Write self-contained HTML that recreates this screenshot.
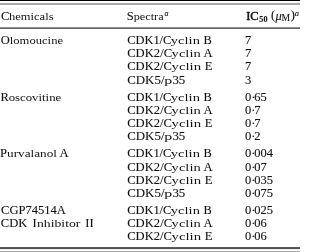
<!DOCTYPE html><html><head><meta charset="utf-8"><style>
html,body{margin:0;padding:0;background:#fff;}
body{width:300px;height:252px;position:relative;overflow:hidden;filter:grayscale(1);}
.t{position:absolute;white-space:nowrap;font-family:"Liberation Serif",serif;font-size:12.5px;line-height:13px;color:#111;transform-origin:0 0;-webkit-text-stroke:0.1px #111;}
.lc{font-size:11px;-webkit-text-stroke:0.0px #111;}
.d{margin-right:-1.3px;}
.lcw{display:inline-block;}
.lci{display:inline-block;transform-origin:0 0;}
.l{position:absolute;left:0;width:300px;}
</style></head><body><div class="l" style="top:0;height:1px;background:#000"></div>
<div class="l" style="top:3px;height:2px;background:#a8a8a8"></div>
<div class="l" style="top:27px;height:1px;background:#8e8e8e"></div>
<div class="l" style="top:28px;height:1px;background:#666"></div>
<div class="l" style="top:247px;height:1px;background:#5a5a5a"></div>
<div class="l" style="top:248px;height:1px;background:#505050"></div>
<div class="l" style="top:249px;height:1px;background:#f0f0f0"></div>
<div class="l" style="top:251px;height:1px;background:#aaa"></div>
<div class="t" style="left:1px;top:10px;transform:translateX(0.00px) scaleX(1.0038)">C<span class="lcw" style="width:44.31px"><span class="lc lci" style="transform:scaleX(1.1330)">hemicals</span></span></div>
<div class="t" style="left:126px;top:10px;transform:translateX(0.70px) scaleX(1.0000)">S<span class="lcw" style="width:29.87px"><span class="lc lci" style="transform:scaleX(1.1116)">pectra</span></span><i style="font-size:8px;position:relative;top:-4px;margin-left:1px">a</i></div>
<div class="t" style="left:0px;top:34px;transform:translateX(0.80px) scaleX(0.9984)">O<span class="lcw" style="width:53.34px"><span class="lc lci" style="transform:scaleX(1.1486)">lomoucine</span></span></div>
<div class="t" style="left:127px;top:34px;transform:translateX(0.20px) scaleX(0.9918)">CDK1/C<span class="lcw" style="width:29.30px"><span class="lc lci" style="transform:scaleX(1.3318)">yclin</span></span> B</div>
<div class="t" style="left:127px;top:47px;transform:translateX(0.20px) scaleX(1.0095)">CDK2/C<span class="lcw" style="width:28.80px"><span class="lc lci" style="transform:scaleX(1.3091)">yclin</span></span> A</div>
<div class="t" style="left:127px;top:60px;transform:translateX(0.20px) scaleX(1.0060)">CDK2/C<span class="lcw" style="width:29.50px"><span class="lc lci" style="transform:scaleX(1.3409)">yclin</span></span> E</div>
<div class="t" style="left:127px;top:74px;transform:translateX(0.20px) scaleX(1.0321)">CDK5/<span class="lcw" style="width:7.70px"><span class="lc lci" style="transform:scaleX(1.4000)">p</span></span>35</div>
<div class="t" style="left:0px;top:91px;transform:translateX(0.60px) scaleX(1.0034)">R<span class="lcw" style="width:52.42px"><span class="lc lci" style="transform:scaleX(1.1592)">oscovitine</span></span></div>
<div class="t" style="left:127px;top:91px;transform:translateX(0.20px) scaleX(0.9918)">CDK1/C<span class="lcw" style="width:29.30px"><span class="lc lci" style="transform:scaleX(1.3318)">yclin</span></span> B</div>
<div class="t" style="left:127px;top:104px;transform:translateX(0.20px) scaleX(1.0095)">CDK2/C<span class="lcw" style="width:28.80px"><span class="lc lci" style="transform:scaleX(1.3091)">yclin</span></span> A</div>
<div class="t" style="left:127px;top:117px;transform:translateX(0.20px) scaleX(1.0060)">CDK2/C<span class="lcw" style="width:29.50px"><span class="lc lci" style="transform:scaleX(1.3409)">yclin</span></span> E</div>
<div class="t" style="left:127px;top:130px;transform:translateX(0.20px) scaleX(1.0321)">CDK5/<span class="lcw" style="width:7.70px"><span class="lc lci" style="transform:scaleX(1.4000)">p</span></span>35</div>
<div class="t" style="left:-1px;top:147px;transform:translateX(0.99px) scaleX(1.0121)">P<span class="lcw" style="width:49.35px"><span class="lc lci" style="transform:scaleX(1.1877)">urvalanol</span></span> A</div>
<div class="t" style="left:127px;top:147px;transform:translateX(0.20px) scaleX(0.9918)">CDK1/C<span class="lcw" style="width:29.30px"><span class="lc lci" style="transform:scaleX(1.3318)">yclin</span></span> B</div>
<div class="t" style="left:127px;top:161px;transform:translateX(0.20px) scaleX(1.0095)">CDK2/C<span class="lcw" style="width:28.80px"><span class="lc lci" style="transform:scaleX(1.3091)">yclin</span></span> A</div>
<div class="t" style="left:127px;top:174px;transform:translateX(0.20px) scaleX(1.0060)">CDK2/C<span class="lcw" style="width:29.50px"><span class="lc lci" style="transform:scaleX(1.3409)">yclin</span></span> E</div>
<div class="t" style="left:127px;top:187px;transform:translateX(0.20px) scaleX(1.0321)">CDK5/<span class="lcw" style="width:7.70px"><span class="lc lci" style="transform:scaleX(1.4000)">p</span></span>35</div>
<div class="t" style="left:1px;top:204px;transform:translateX(0.00px) scaleX(1.0047)">CGP74514A</div>
<div class="t" style="left:127px;top:204px;transform:translateX(0.20px) scaleX(0.9918)">CDK1/C<span class="lcw" style="width:29.30px"><span class="lc lci" style="transform:scaleX(1.3318)">yclin</span></span> B</div>
<div class="t" style="left:0px;top:217px;transform:translateX(0.80px) scaleX(1.0044)"><span style="word-spacing:2.0px">CDK I<span class="lcw" style="width:43.24px"><span class="lc lci" style="transform:scaleX(1.2411)">nhibitor</span></span> II</span></div>
<div class="t" style="left:127px;top:217px;transform:translateX(0.20px) scaleX(1.0095)">CDK2/C<span class="lcw" style="width:28.80px"><span class="lc lci" style="transform:scaleX(1.3091)">yclin</span></span> A</div>
<div class="t" style="left:127px;top:230px;transform:translateX(0.20px) scaleX(1.0060)">CDK2/C<span class="lcw" style="width:29.50px"><span class="lc lci" style="transform:scaleX(1.3409)">yclin</span></span> E</div>
<div class="t" style="left:245px;top:34px">7</div>
<div class="t" style="left:245px;top:47px">7</div>
<div class="t" style="left:245px;top:60px">7</div>
<div class="t" style="left:245px;top:74px">3</div>
<div class="t" style="left:245px;top:91px">0<span class="d">·</span>65</div>
<div class="t" style="left:245px;top:104px">0<span class="d">·</span>7</div>
<div class="t" style="left:245px;top:117px">0<span class="d">·</span>7</div>
<div class="t" style="left:245px;top:130px">0<span class="d">·</span>2</div>
<div class="t" style="left:245px;top:147px">0<span class="d">·</span>004</div>
<div class="t" style="left:245px;top:161px">0<span class="d">·</span>07</div>
<div class="t" style="left:245px;top:174px">0<span class="d">·</span>035</div>
<div class="t" style="left:245px;top:187px">0<span class="d">·</span>075</div>
<div class="t" style="left:245px;top:204px">0<span class="d">·</span>025</div>
<div class="t" style="left:245px;top:217px">0<span class="d">·</span>06</div>
<div class="t" style="left:245px;top:230px">0<span class="d">·</span>06</div>
<div class="t" style="left:246.2px;top:10px;-webkit-text-stroke:0.45px #111">IC</div>
<div class="t" style="left:259.3px;top:12.5px;font-size:8.2px"><b>50</b></div>
<div class="t" style="left:271px;top:9px">(</div>
<div class="t" style="left:275.5px;top:9.5px"><i>μ</i></div>
<div class="t" style="left:281.5px;top:10.5px;font-size:9.6px">M</div>
<div class="t" style="left:290.8px;top:9px">)</div>
<div class="t" style="left:294.8px;top:6.5px;font-size:8.5px"><i>a</i></div></body></html>
